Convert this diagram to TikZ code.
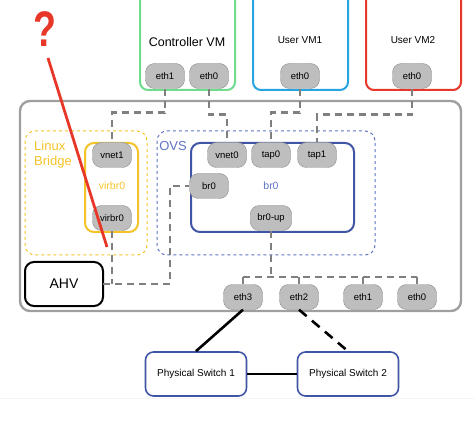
\documentclass[tikz,border=0pt]{standalone}
\usepackage{fontspec}
\setmainfont{Liberation Sans}
\definecolor{cvmgreen}{RGB}{110,220,140}
\definecolor{vmcyan}{RGB}{40,165,225}
\definecolor{vmred}{RGB}{230,55,40}
\definecolor{lbyellow}{RGB}{245,195,40}
\definecolor{ovsblue}{RGB}{95,115,195}
\definecolor{brblue}{RGB}{65,85,165}
\definecolor{pillgray}{RGB}{190,190,190}
\tikzset{
  pill/.style={draw=gray!90, fill=pillgray, rounded corners=9pt, minimum width=39pt, minimum height=25pt, inner xsep=7pt, font=\fontsize{9.5}{9.5}\selectfont},
  lnk/.style={draw=gray, line width=2.4pt, dash pattern=on 7pt off 5pt},
  vmbox/.style={line width=2pt, rounded corners=8pt},
  sw/.style={draw=brblue, line width=1.6pt, rounded corners=8pt, minimum width=101pt, minimum height=44pt, font=\fontsize{10}{10}\selectfont},
  wire/.style={line width=2.6pt, black}
}
\begin{document}
\begin{tikzpicture}[x=1pt, y=-1pt]
			\useasboundingbox (0,0) rectangle (474,422);
			\clip (0,0) rectangle (474,422);
			
			%VMs on top
			\draw[vmbox, draw=cvmgreen] (140,-20) rectangle (235,90);
			\node (cvm) at (187,42) {\fontsize{12.5}{12.5}\selectfont Controller VM};
			\draw[vmbox, draw=vmcyan] (253,-20) rectangle (348,90);
			\node (vm1) at (300,40) {\fontsize{10}{10}\selectfont User VM1};
			\draw[vmbox, draw=vmred] (366,-20) rectangle (461,90);
			\node (vm2) at (413,40) {\fontsize{10}{10}\selectfont User VM2};
			
			%Host
			\draw[draw=gray!75, line width=2.4pt, rounded corners=10pt] (20,101) rectangle (461,311);
			
			%Linux Bridge
			\draw[draw=lbyellow, line width=1pt, dashed, rounded corners=10pt] (25,131) rectangle (147,255);
			\node[lbyellow, align=left, font=\fontsize{13}{15}\selectfont] (lb) at (53,155) {Linux\\Bridge};
			\draw[draw=lbyellow, line width=2pt, rounded corners=9pt] (85,143) rectangle (138,232);
			\node[lbyellow, font=\fontsize{10.5}{10.5}\selectfont] (virbrlbl) at (112,186) {virbr0};
			
			%OVS
			\draw[draw=ovsblue, line width=1pt, dashed, rounded corners=10pt] (157,131) rectangle (375,255);
			\node[ovsblue, font=\fontsize{13}{13}\selectfont] (ovs) at (173,146) {OVS};
			\draw[draw=brblue, line width=2pt, rounded corners=9pt] (191,143) rectangle (354,232);
			\node[ovsblue, font=\fontsize{10.5}{10.5}\selectfont] (brlbl) at (271,186) {br0};
			
			%AHV
			\draw[line width=2pt, rounded corners=9pt] (25,262) rectangle (103,306);
			\node (ahv) at (64,284) {\fontsize{14}{14}\selectfont AHV};
			\coordinate (ahvr) at (103,284);
			
			%vNICs
			\node[pill] (cvmeth1) at (165,76) {eth1};
			\node[pill] (cvmeth0) at (209,76) {eth0};
			\node[pill] (vm1eth0) at (300,76) {eth0};
			\node[pill] (vm2eth0) at (412,76) {eth0};
			
			%ports
			\node[pill] (vnet1) at (112,155) {vnet1};
			\node[pill] (virbr0) at (112,218) {virbr0};
			\node[pill] (vnet0) at (227,155) {vnet0};
			\node[pill] (tap0) at (271,155) {tap0};
			\node[pill] (tap1) at (317,155) {tap1};
			\node[pill] (br0) at (209,186) {br0};
			\node[pill] (br0up) at (271,218) {br0-up};
			
			%physical NICs
			\node[pill] (pe3) at (243,297) {eth3};
			\node[pill] (pe2) at (299,297) {eth2};
			\node[pill] (pe1) at (363,297) {eth1};
			\node[pill] (pe0) at (417,297) {eth0};
			
			%dashed links
			\draw[lnk] (cvmeth1.south) -- ++(0,24) -| (vnet1.north);
			\draw[lnk] (cvmeth0.south) -- ++(0,26) -| (vnet0.north);
			\draw[lnk] (vm1eth0.south) -- ++(0,24) -| (tap0.north);
			\draw[lnk] (vm2eth0.south) -- ++(0,26) -| (tap1.north);
			\draw[lnk] (ahvr) -- ++(67,0) |- (br0.west);
			\draw[lnk] (virbr0.south) -- (virbr0.south |- ahvr);
			\coordinate (bus) at (271,277);
			\draw[lnk] (br0up.south) -- (bus);
			\draw[lnk] (pe3.north |- bus) -- (pe0.north |- bus);
			\foreach \e in {pe3,pe2,pe1,pe0}
				\draw[lnk] (\e.north) -- (\e.north |- bus);
			
			%Physical switches
			\node[sw] (ps1) at (196,374) {Physical Switch 1};
			\node[sw] (ps2) at (348,374) {Physical Switch 2};
			\draw[wire] (pe3.south) -- (ps1.north);
			\draw[wire, dash pattern=on 10pt off 7pt] (pe2.south) -- (ps2.north);
			\draw[wire] (ps1.east) -- (ps2.west);
			
			\draw[gray!8, line width=0.8pt] (0,398) -- (474,398);
			
			%question mark
			\node[vmred, font=\fontsize{50}{50}\selectfont\bfseries, xscale=0.75, transform shape] (qm) at (45,29) {?};
			\coordinate (qtail) at (48,58);
			\coordinate (qtip) at (107,247);
			\draw[vmred, line width=2.8pt] (qtail) -- (qtip);
			
		\end{tikzpicture}
\end{document}
